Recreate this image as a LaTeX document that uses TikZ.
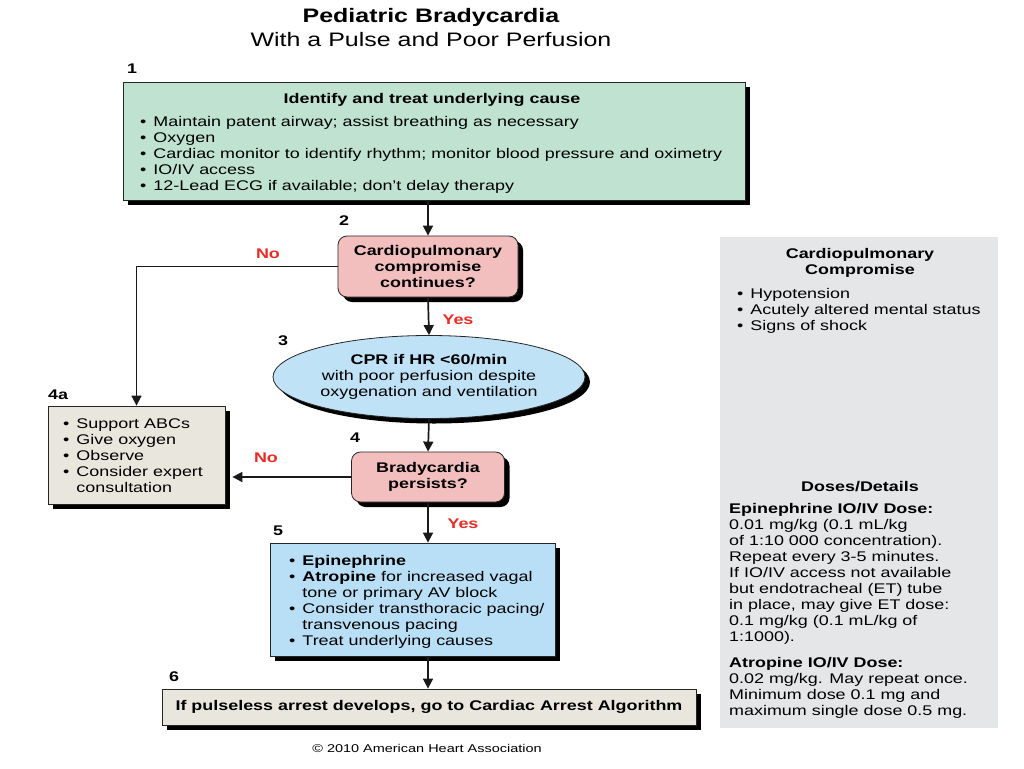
\documentclass[tikz,border=0pt]{standalone}
\usepackage{fontspec}
\setmainfont{Liberation Sans}[FakeStretch=1.28]
\usetikzlibrary{shapes.geometric,shadows,arrows.meta}
\definecolor{boxgreen}{RGB}{192,227,209}
\definecolor{boxpink}{RGB}{243,190,190}
\definecolor{ellblue}{RGB}{192,226,246}
\definecolor{boxblue}{RGB}{184,223,246}
\definecolor{boxbeige}{RGB}{233,231,221}
\definecolor{panelgray}{RGB}{229,230,232}
\definecolor{labred}{RGB}{232,44,38}
\newcommand{\blist}[1]{\begin{tabular}[t]{@{}l@{\hspace{7pt}}l@{}}#1\end{tabular}}
\begin{document}
\begin{tikzpicture}[x=1pt,y=-1pt,
  shadowed/.style={drop shadow={shadow xshift=5pt,shadow yshift=-5pt,fill=black,opacity=1}},
  boxbase/.style={draw=black!85,line width=0.8pt,inner sep=0pt,shadowed},
  rbox/.style={boxbase,rounded corners=9pt,fill=boxpink,align=center,font=\bfseries},
  num/.style={anchor=west,inner sep=0pt,font=\bfseries},
  lab/.style={inner sep=0pt,font=\bfseries,text=labred},
  txt/.style={inner sep=0pt},
  arr/.style={line width=1.7pt,draw=black!90,-{Triangle[length=10pt,width=10pt]}}]
\fontsize{14}{16}\selectfont
\useasboundingbox (0,0) rectangle (1024,768);
\fill[white] (0,0) rectangle (1024,768);

% title
\node[txt,anchor=base,font=\fontsize{19.5}{22}\selectfont\bfseries] (title) at (431,23) {Pediatric Bradycardia};
\node[txt,anchor=base,font=\fontsize{19.5}{22}\selectfont] (subtitle) at (431,46) {With a Pulse and Poor Perfusion};

% box 1
\node[num] (n1) at (127,69) {1};
\node[boxbase,fill=boxgreen,minimum width=622pt,minimum height=118pt] (b1) at (434,141) {};
\node[txt,anchor=base,font=\bfseries] (b1t) at (432,103) {Identify and treat underlying cause};
\node[txt,anchor=base west] (b1l) at (140,126) {\blist{%
\textbullet & Maintain patent airway; assist breathing as necessary\\
\textbullet & Oxygen\\
\textbullet & Cardiac monitor to identify rhythm; monitor blood pressure and oximetry\\
\textbullet & IO/IV access\\
\textbullet & 12-Lead ECG if available; don’t delay therapy}};

% box 2
\node[num] (n2) at (339,221) {2};
\node[rbox,minimum width=180pt,minimum height=61pt] (b2) at (428,266.5) {Cardiopulmonary\\compromise\\continues?};

% ellipse 3
\node[num] (n3) at (278,341) {3};
\node[ellipse,boxbase,fill=ellblue,minimum width=312pt,minimum height=83pt,align=center] (b3) at (429,377)
  {\textbf{CPR if HR <60/min}\\with poor perfusion despite\\oxygenation and ventilation};

% box 4
\node[num] (n4) at (350,438) {4};
\node[rbox,minimum width=153pt,minimum height=50pt] (b4) at (428,477) {Bradycardia\\persists?};

% box 4a
\node[num] (n4a) at (48,395) {4a};
\node[boxbase,fill=boxbeige,minimum width=177pt,minimum height=98pt] (b4a) at (136.5,455) {};
\node[txt,anchor=base west] (b4al) at (63,428) {\blist{%
\textbullet & Support ABCs\\
\textbullet & Give oxygen\\
\textbullet & Observe\\
\textbullet & Consider expert\\
 & consultation}};

% box 5
\node[num] (n5) at (273,531) {5};
\node[boxbase,fill=boxblue,minimum width=285pt,minimum height=113pt] (b5) at (412.5,599.5) {};
\node[txt,anchor=base west] (b5l) at (289,565) {\blist{%
\textbullet & \textbf{Epinephrine}\\
\textbullet & \textbf{Atropine} for increased vagal\\
 & tone or primary AV block\\
\textbullet & Consider transthoracic pacing/\\
 & transvenous pacing\\
\textbullet & Treat underlying causes}};

% box 6
\node[num] (n6) at (169,677) {6};
\node[boxbase,fill=boxbeige,minimum width=534pt,minimum height=36pt,font=\bfseries] (b6) at (429,707)
  {If pulseless arrest develops, go to Cardiac Arrest Algorithm};

% copyright
\node[txt,anchor=base,font=\fontsize{11.3}{13}\selectfont] (copy) at (427,752) {© 2010 American Heart Association};

% right panel
\node[inner sep=0pt,fill=panelgray,minimum width=278pt,minimum height=491pt] (panel) at (859,482.5) {};
\node[txt,anchor=base,font=\bfseries,align=center] (p1t) at (860,274) {Cardiopulmonary\\Compromise};
\node[txt,anchor=base west] (p1l) at (737,298) {\blist{%
\textbullet & Hypotension\\
\textbullet & Acutely altered mental status\\
\textbullet & Signs of shock}};
\node[txt,anchor=base,font=\bfseries] (p2t) at (860,491) {Doses/Details};
\node[txt,anchor=base west,align=left] (p2a) at (729,641) {%
\textbf{Epinephrine IO/IV Dose:}\\
0.01 mg/kg (0.1 mL/kg\\
of 1:10 000 concentration).\\
Repeat every 3-5 minutes.\\
If IO/IV access not available\\
but endotracheal (ET) tube\\
in place, may give ET dose:\\
0.1 mg/kg (0.1 mL/kg of\\
1:1000).};
\node[txt,anchor=base west,align=left] (p2b) at (729,715) {%
\textbf{Atropine IO/IV Dose:}\\
0.02 mg/kg. May repeat once.\\
Minimum dose 0.1 mg and\\
maximum single dose 0.5 mg.};

% connectors
\draw[arr] (b2.north |- b1.south) -- (b2.north);
\draw[arr] (b2.west) -| (b4a.north);
\node[lab] (no1) at (268,254) {No};
\draw[arr] (b2.south) -- (b3.north);
\node[lab] (yes1) at (458,320) {Yes};
\draw[arr] (b3.south) -- (b4.north);
\draw[arr] (b4.west) -- ([xshift=7pt]b4.west -| b4a.east);
\node[lab] (no2) at (266,458) {No};
\draw[arr] (b4.south) -- (b4.south |- b5.north);
\node[lab] (yes2) at (463,524) {Yes};
\draw[arr] (b4.south |- b5.south) -- (b4.south |- b6.north);
\end{tikzpicture}
\end{document}
